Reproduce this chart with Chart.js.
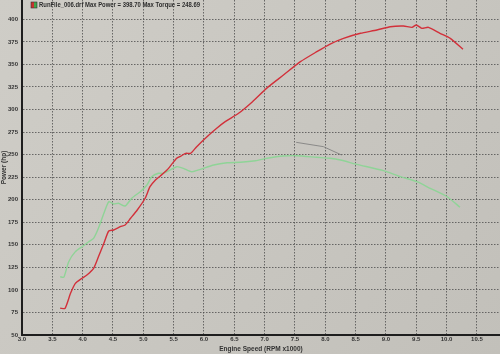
<!DOCTYPE html>
<html>
<head>
<meta charset="utf-8">
<script src="https://cdn.jsdelivr.net/npm/chart.js@4"></script>
<style>
  html, body { margin: 0; padding: 0; background: #c9c7c1; }
  #chart { display: block; }
</style>
</head>
<body>
<canvas id="chart" width="500" height="354"></canvas>
<script>
// red trace: power (hp) vs engine speed (rpm x1000)
const powerRpm = [3.63, 3.71, 3.80, 3.88, 3.99, 4.07, 4.18, 4.26, 4.35, 4.43, 4.51, 4.62, 4.70, 4.79, 4.90, 5.03, 5.11, 5.20, 5.28, 5.39, 5.55, 5.62, 5.70, 5.78, 5.88, 6.05, 6.21, 6.35, 6.57, 6.80, 7.04, 7.31, 7.59, 7.86, 8.08, 8.30, 8.58, 8.85, 9.07, 9.29, 9.43, 9.50, 9.59, 9.70, 9.89, 10.06, 10.27];
const powerHp  = [79.6, 79.6, 96.2, 107.3, 112.9, 116.5, 123.9, 136.8, 151.7, 165.3, 166.4, 170.1, 172.0, 179.4, 188.6, 201.6, 214.4, 221.8, 226.3, 232.9, 245.9, 248.4, 251.4, 251.4, 258.8, 269.8, 279.2, 286.5, 295.8, 308.7, 324.0, 338.2, 353.0, 364.1, 372.6, 378.9, 384.5, 388.1, 391.8, 392.6, 391.1, 393.7, 390.0, 391.1, 384.5, 378.9, 366.7];

// green trace: torque
const torqueRpm = [3.63, 3.69, 3.77, 3.88, 3.99, 4.10, 4.18, 4.26, 4.35, 4.43, 4.51, 4.59, 4.70, 4.81, 4.95, 5.06, 5.14, 5.25, 5.33, 5.44, 5.55, 5.66, 5.80, 5.94, 6.16, 6.38, 6.60, 6.85, 7.04, 7.31, 7.53, 7.86, 8.08, 8.25, 8.52, 8.96, 9.24, 9.51, 9.73, 10.01, 10.22];
const torqueVal = [114.6, 114.0, 131.3, 142.4, 147.9, 153.4, 157.2, 168.3, 184.9, 197.8, 195.2, 196.0, 193.0, 201.6, 208.9, 216.3, 225.5, 229.3, 229.3, 232.9, 236.6, 234.8, 231.0, 233.7, 238.5, 241.0, 241.5, 243.2, 245.9, 248.4, 248.8, 247.0, 245.9, 244.0, 239.2, 232.2, 225.5, 220.0, 212.6, 203.3, 191.6];

// short grey trace fragment
const ghostRpm = [7.52, 7.97, 8.27];
const ghostVal = [263.6, 258.8, 249.5];

const headerText = 'RunFile_006.drf Max Power = 398.70 Max Torque = 248.69';
const xTitle = 'Engine Speed (RPM x1000)';
const yTitle = 'Power (hp)';

const pts = (xs, ys) => xs.map((x, i) => ({ x: x, y: ys[i] }));

const bgPlugin = {
  id: 'bg',
  beforeDraw(chart) {
    const c = chart.ctx;
    c.save();
    const g = c.createLinearGradient(0, 0, 500, 354);
    g.addColorStop(0, '#cfcdc7');
    g.addColorStop(1, '#c2c0ba');
    c.fillStyle = g;
    c.fillRect(0, 0, chart.width, chart.height);
    c.restore();
  }
};

const headerPlugin = {
  id: 'header',
  afterDraw(chart) {
    const c = chart.ctx;
    c.save();
    c.fillStyle = '#c8302f';
    c.fillRect(31, 2, 3, 6);
    c.fillStyle = '#3fa34a';
    c.fillRect(34, 2, 3, 6);
    c.strokeStyle = '#333';
    c.lineWidth = 0.6;
    c.strokeRect(31, 2, 6, 6);
    c.fillStyle = '#2e2e2e';
    c.font = 'bold 7px "Liberation Sans"';
    c.textBaseline = 'middle';
    c.fillText(headerText, 39, 5.5, 161);
    c.restore();
  }
};

new Chart(document.getElementById('chart'), {
  type: 'line',
  data: {
    datasets: [
      { label: 'Power', data: pts(powerRpm, powerHp), borderColor: '#d2303a', borderWidth: 1.4, pointRadius: 0, tension: 0.2 },
      { label: 'Torque', data: pts(torqueRpm, torqueVal), borderColor: '#8fd497', borderWidth: 1.4, pointRadius: 0, tension: 0.2 },
      { label: 'Ghost', data: pts(ghostRpm, ghostVal), borderColor: '#7a7a7a', borderWidth: 0.8, pointRadius: 0 }
    ]
  },
  options: {
    responsive: false,
    animation: false,
    layout: { padding: 0 },
    plugins: {
      legend: { display: false },
      tooltip: { enabled: false }
    },
    scales: {
      x: {
        type: 'linear',
        min: 3.0,
        max: 10.88,
        afterBuildTicks: (axis) => {
          const t = [];
          for (let v = 3.0; v <= 10.5 + 1e-9; v += 0.5) t.push({ value: +v.toFixed(1) });
          axis.ticks = t;
        },
        afterFit: (scale) => { scale.height = 19; },
        ticks: {
          padding: 1,
          maxRotation: 0,
          autoSkip: false,
          color: '#333',
          font: { family: 'Liberation Sans', size: 6, weight: 'bold' },
          callback: (v) => Number(v).toFixed(1)
        },
        grid: { color: '#4d4d4d', lineWidth: 0.8, drawTicks: false },
        border: { color: '#1e1e1e', width: 2, dash: [1.5, 1.5] },
        title: {
          display: true,
          text: xTitle,
          color: '#333',
          font: { family: 'Liberation Sans', size: 6.5, weight: 'bold' },
          padding: { top: 0, bottom: 1 }
        }
      },
      y: {
        type: 'linear',
        min: 50,
        max: 421.4,
        afterBuildTicks: (axis) => {
          const t = [];
          for (let v = 50; v <= 400; v += 25) t.push({ value: v });
          axis.ticks = t;
        },
        afterFit: (scale) => {
          scale.width = 22;
          scale.paddingTop = 0;
          scale.paddingBottom = 0;
        },
        ticks: {
          padding: 4,
          color: '#333',
          font: { family: 'Liberation Sans', size: 6, weight: 'bold' }
        },
        grid: { color: '#4d4d4d', lineWidth: 0.8, drawTicks: false },
        border: { color: '#1e1e1e', width: 2, dash: [1.5, 1.5] },
        title: {
          display: true,
          text: yTitle,
          color: '#333',
          font: { family: 'Liberation Sans', size: 6.5, weight: 'bold' },
          padding: { top: 0, bottom: 0 }
        }
      }
    }
  },
  plugins: [bgPlugin, headerPlugin]
});
</script>
</body>
</html>
